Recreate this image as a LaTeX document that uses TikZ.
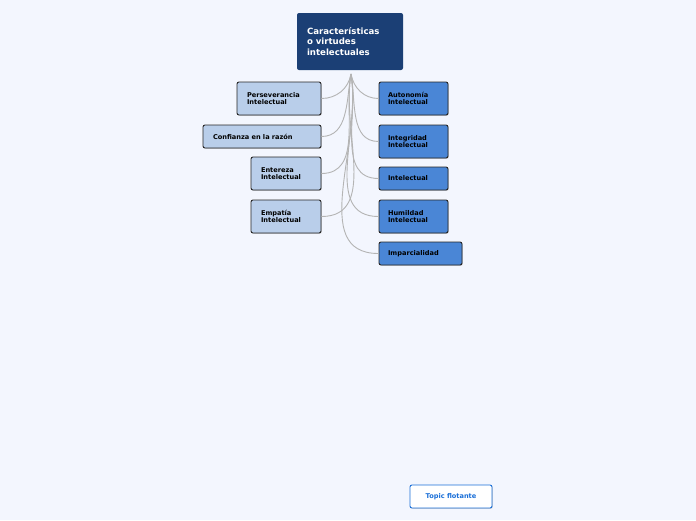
\documentclass[tikz,border=0pt]{standalone}
\usepackage{fontspec}
\setmainfont{DejaVu Sans}
\usetikzlibrary{shadows}
\definecolor{bg}{HTML}{F3F6FE}
\definecolor{rootc}{HTML}{1B3F75}
\definecolor{lightc}{HTML}{B9CEEA}
\definecolor{midc}{HTML}{4A86D6}
\definecolor{edgec}{HTML}{B4B4B4}
\definecolor{floatc}{HTML}{1A6FD8}
\tikzset{
 base/.style={rounded corners=2pt, line width=0.9pt, draw=black!85, align=left, inner xsep=0pt, inner ysep=0pt, font=\bfseries\fontsize{6.6}{7.4}\selectfont, drop shadow={shadow xshift=0.8pt, shadow yshift=-0.8pt, opacity=0.35}},
 lbox/.style={base, fill=lightc},
 rbox/.style={base, fill=midc},
 conn/.style={draw=edgec, line width=0.9pt},
}
\begin{document}
\begin{tikzpicture}[x=1pt,y=-1pt]
\useasboundingbox[fill=bg] (0,0) rectangle (696,520);
\node[rounded corners=2pt, fill=rootc, text=white, align=left, font=\bfseries\fontsize{8.6}{10.4}\selectfont, minimum width=106, minimum height=57, text width=86, inner sep=0pt] (root) at (350,41.5) {Características\\o virtudes\\intelectuales};
\coordinate (hub) at (351,74);
\node[lbox, minimum width=84, minimum height=33, text width=64] (p) at (279,98.5) {Perseverancia\\Intelectual};
\node[lbox, minimum width=118, minimum height=23, text width=98] (c) at (262,136.5) {Confianza en la razón};
\node[lbox, minimum width=70, minimum height=33, text width=50] (e) at (286,173.5) {Entereza\\Intelectual};
\node[lbox, minimum width=70, minimum height=33, text width=50] (m) at (286,216.5) {Empatía\\Intelectual};
\node[rbox, minimum width=69, minimum height=33, text width=51] (a) at (413.5,98.5) {Autonomía\\Intelectual};
\node[rbox, minimum width=69, minimum height=33, text width=51] (i) at (413.5,141.5) {Integridad\\Intelectual};
\node[rbox, minimum width=69, minimum height=23, text width=51] (t) at (413.5,178.5) {Intelectual};
\node[rbox, minimum width=69, minimum height=33, text width=51] (h) at (413.5,216.5) {Humildad\\Intelectual};
\node[rbox, minimum width=83, minimum height=23, text width=65] (im) at (420.5,253.5) {Imparcialidad};
\foreach \n in {p,c,e,m}{\draw[conn] (hub) to[out=260,in=0] (\n.east);}
\foreach \n in {a,i,t,h,im}{\draw[conn] (hub) to[out=280,in=180] (\n.west);}
\node[rounded corners=2pt, draw=floatc, line width=0.9pt, fill=white, text=floatc, font=\bfseries\fontsize{6.6}{7.4}\selectfont, minimum width=82, minimum height=23, inner sep=0pt, drop shadow={shadow xshift=0.8pt, shadow yshift=-0.8pt, opacity=0.3}] (f) at (451,496.5) {Topic flotante};
\end{tikzpicture}
\end{document}
